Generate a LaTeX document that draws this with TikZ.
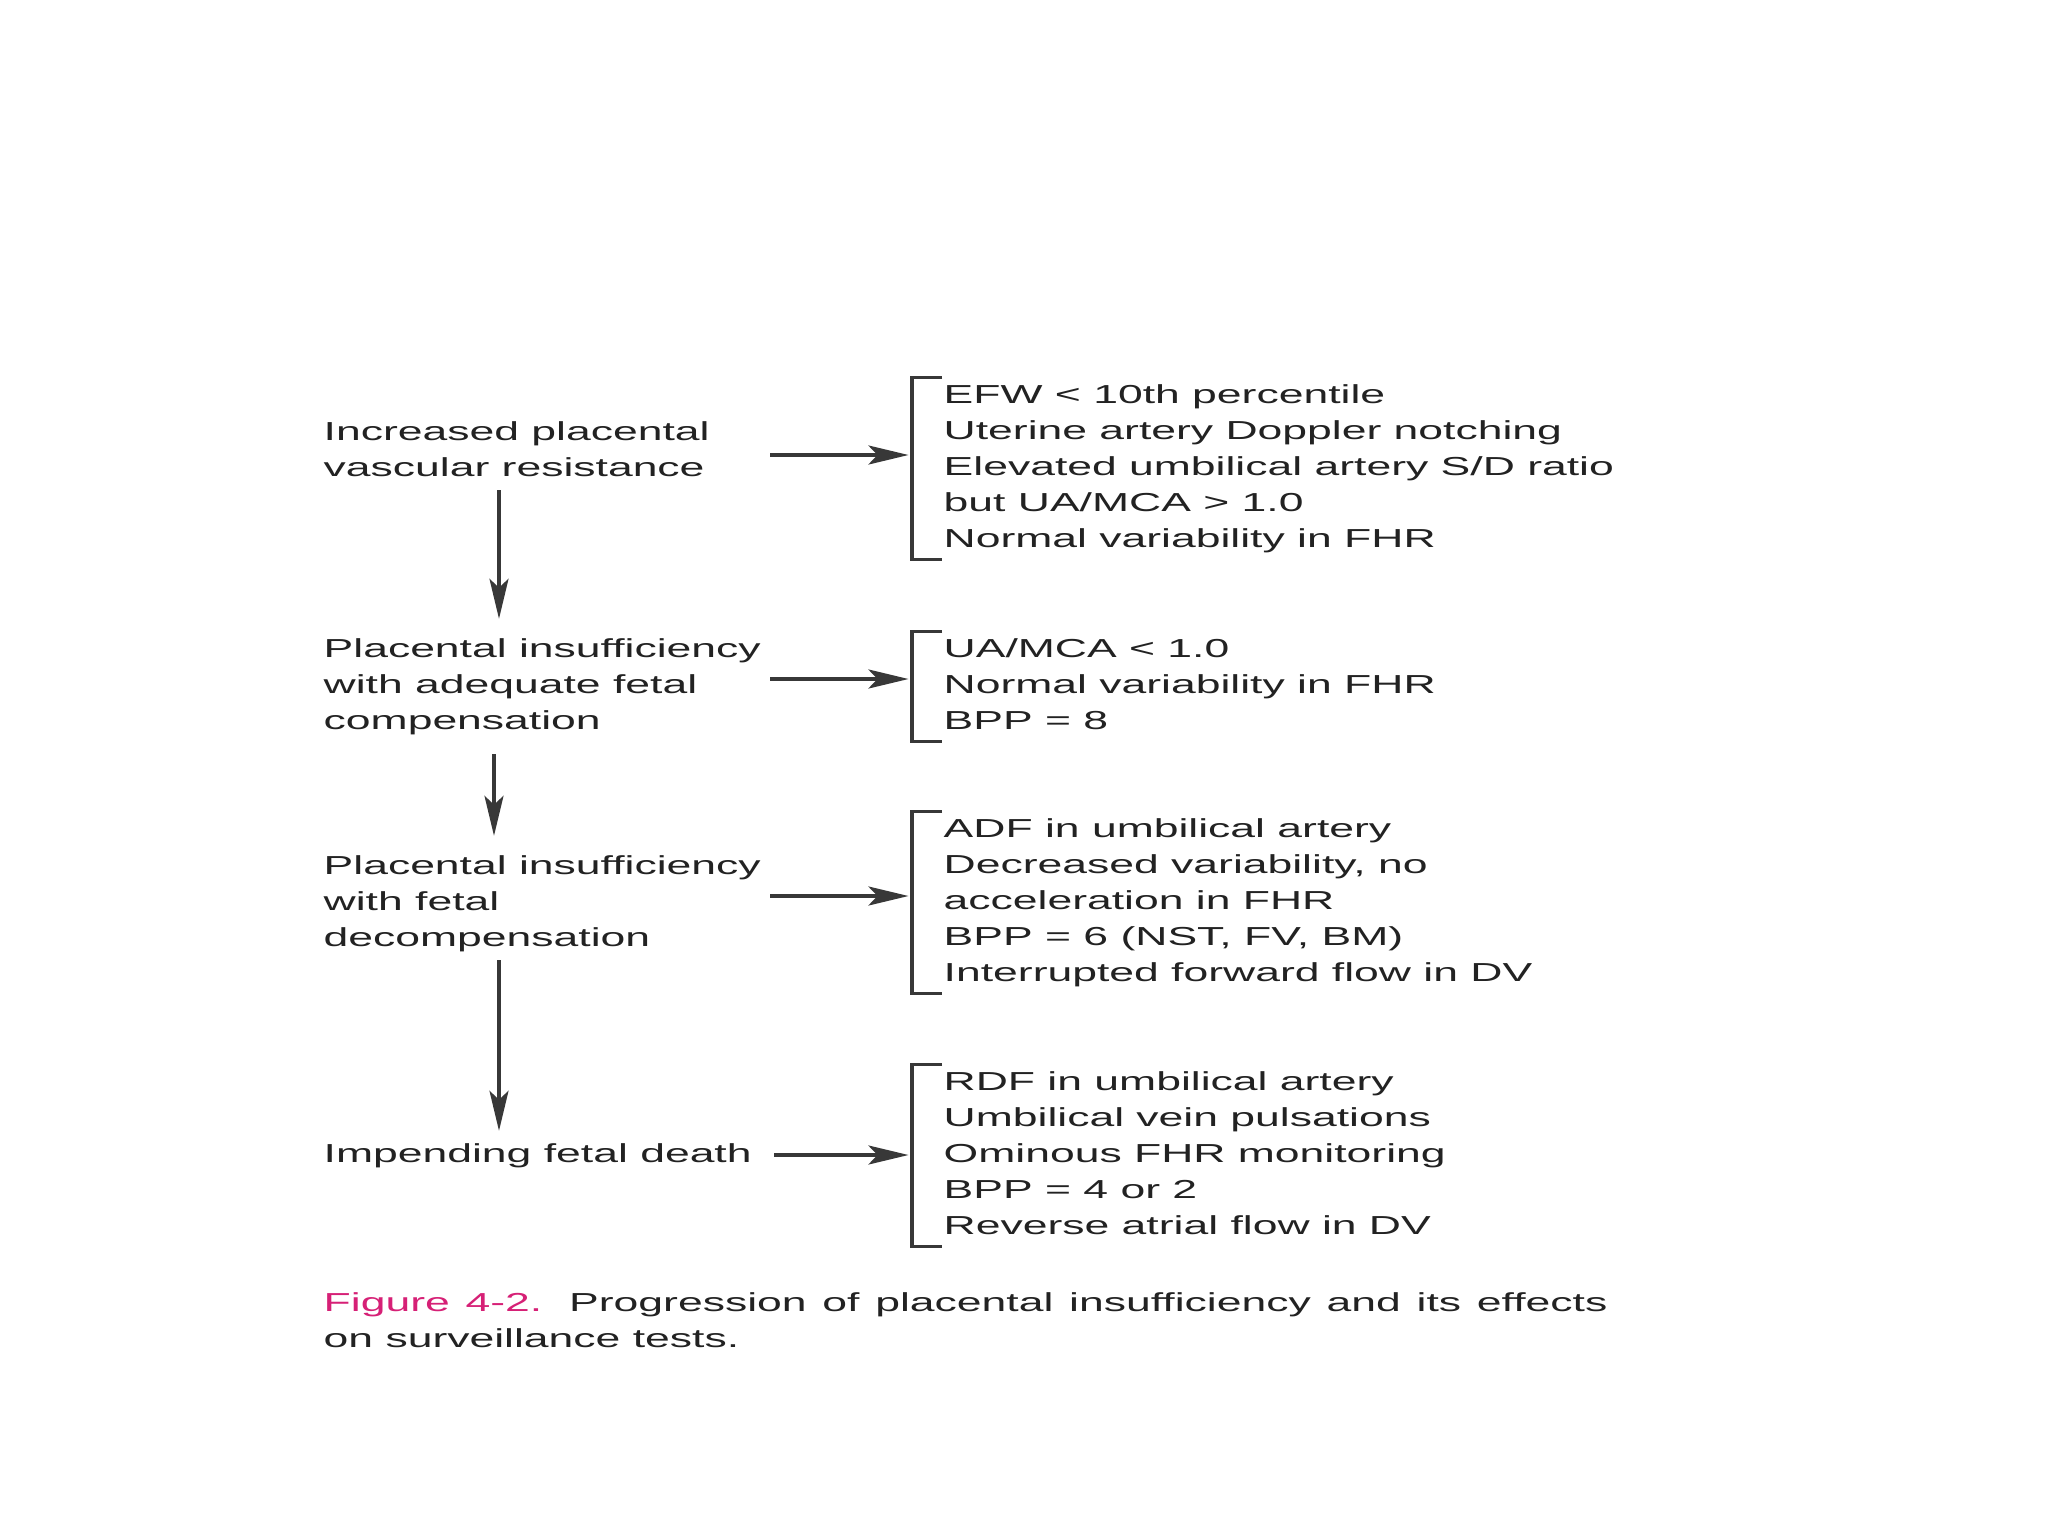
\documentclass[tikz,border=0pt]{standalone}
\usepackage{fontspec}
\setmainfont{Liberation Sans}[FakeStretch=1.71]
\usetikzlibrary{arrows.meta}
\definecolor{ink}{RGB}{34,34,34}
\definecolor{figpink}{RGB}{214,32,118}
\begin{document}
\begin{tikzpicture}[x=0.01cm,y=-0.01cm,
  txt/.style={anchor=north west,inner sep=0pt,align=left,text=ink,
    font=\fontsize{7.4pt}{10.24pt}\selectfont},
  arr/.style={draw=ink!90,line width=0.95pt,
    -{Stealth[length=0.40cm,width=0.19cm,inset=0.09cm]}},
  brk/.style={draw=ink!90,line width=0.95pt}]
\useasboundingbox[fill=white] (0,0) rectangle (2048,1536);

% left column
\node[txt] (L1) at (323,414.8) {Increased placental\strut\\vascular resistance\strut};
\node[txt] (L2) at (323,631.8) {Placental insufficiency\strut\\with adequate fetal\strut\\compensation\strut};
\node[txt] (L3) at (323,848.8) {Placental insufficiency\strut\\with fetal\strut\\decompensation\strut};
\node[txt] (L4) at (323,1136.8) {Impending fetal death\strut};

% right column
\node[txt] (R1) at (943,377.8) {EFW < 10th percentile\strut\\Uterine artery Doppler notching\strut\\Elevated umbilical artery S/D ratio\strut\\but UA/MCA > 1.0\strut\\Normal variability in FHR\strut};
\node[txt] (R2) at (943,631.8) {UA/MCA < 1.0\strut\\Normal variability in FHR\strut\\BPP = 8\strut};
\node[txt] (R3) at (943,811.8) {ADF in umbilical artery\strut\\Decreased variability, no\strut\\acceleration in FHR\strut\\BPP = 6 (NST, FV, BM)\strut\\Interrupted forward flow in DV\strut};
\node[txt] (R4) at (943,1064.8) {RDF in umbilical artery\strut\\Umbilical vein pulsations\strut\\Ominous FHR monitoring\strut\\BPP = 4 or 2\strut\\Reverse atrial flow in DV\strut};

% caption
\node[txt] (cap) at (323,1285.8) {\makebox[12.83cm][s]{\textcolor{figpink}{Figure 4-2.} Progression of placental insufficiency and its effects}\strut\\on surveillance tests.\strut};

% brackets
\foreach \r in {R1,R2,R3,R4}{
  \draw[brk] ([xshift=-0.01cm]\r.north west) -- ([xshift=-0.31cm]\r.north west)
    -- ([xshift=-0.31cm]\r.south west) -- ([xshift=-0.01cm]\r.south west);
}

% horizontal arrows (ending at the bracket, 0.31cm left of the text)
\coordinate (h1) at (770,455);
\coordinate (h2) at (770,679);
\coordinate (h3) at (770,896);
\coordinate (h4) at (774,1155);
\draw[arr,shorten >=0.345cm] (h1) -- (h1 -| R1.west);
\draw[arr,shorten >=0.345cm] (h2) -- (h2 -| R2.west);
\draw[arr,shorten >=0.345cm] (h3) -- (h3 -| R3.west);
\draw[arr,shorten >=0.345cm] (h4) -- (h4 -| R4.west);

% vertical arrows
\coordinate (v1) at (499,490);
\coordinate (v2) at (494,754);
\coordinate (v3) at (499,960);
\draw[arr,shorten >=0.13cm] (v1) -- (v1 |- L2.north);
\draw[arr,shorten >=0.13cm] (v2) -- (v2 |- L3.north);
\draw[arr,shorten >=0.06cm] (v3) -- (v3 |- L4.north);
\end{tikzpicture}
\end{document}
